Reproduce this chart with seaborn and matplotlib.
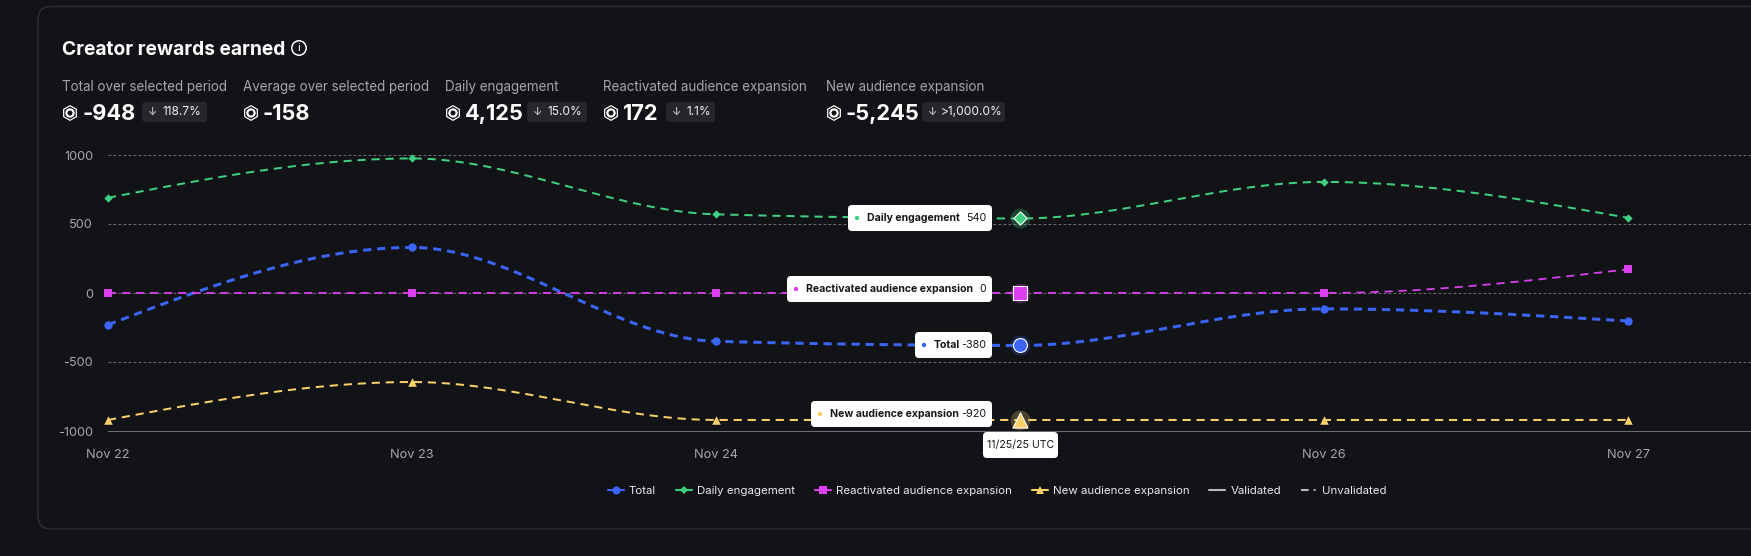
import numpy as np
import pandas as pd
import matplotlib
matplotlib.use("Agg")
import matplotlib.pyplot as plt
from matplotlib.lines import Line2D
from matplotlib.patches import Circle, FancyBboxPatch, RegularPolygon
import seaborn as sns

# Daily rewards per series
days = ["Nov 22", "Nov 23", "Nov 24", "Nov 25", "Nov 26", "Nov 27"]
total = [-230, 330, -350, -380, -115, -203]
daily_engagement = [690, 975, 570, 540, 805, 545]
reactivated = [0, 0, 0, 0, 0, 172]
new_audience = [-920, -645, -920, -920, -920, -920]
y_ticks = [-1000, -500, 0, 500, 1000]
x_tick_labels = ["Nov 22", "Nov 23", "Nov 24", "", "Nov 26", "Nov 27"]
hover_day = "Nov 25"
hover_stamp = "11/25/25 UTC"

# Summary header
metric_names = ["Total over selected period", "Average over selected period", "Daily engagement",
                "Reactivated audience expansion", "New audience expansion"]
metric_values = ["-948", "-158", "4,125", "172", "-5,245"]
metric_changes = ["118.7%", None, "15.0%", "1.1%", ">1,000.0%"]

BG = "#111317"
BORDER = "#2d2f33"
MUTED = "#a4a6aa"
GRID = "#6c6d71"
BLUE = "#3b65f6"
GREEN = "#3fd07f"
PINK = "#dc3ff0"
YELLOW = "#fad068"
PX = 0.72  # points per pixel at 100 dpi

sns.set_theme(style="darkgrid", rc={
    "figure.facecolor": BG, "axes.facecolor": "none", "savefig.facecolor": BG,
    "lines.scale_dashes": False, "axes.edgecolor": GRID, "text.color": "white",
    "xtick.color": MUTED, "ytick.color": MUTED,
})
plt.rcParams["font.family"] = ["Inter", "DejaVu Sans"]


def monotone_curve(values, samples=60):
    """Monotone cubic through daily values, flat at local extrema."""
    y = np.asarray(values, float)
    slopes = np.diff(y)
    tangents = np.zeros_like(y)
    for i in range(1, len(y) - 1):
        a, b = slopes[i - 1], slopes[i]
        tangents[i] = (np.sign(a) + np.sign(b)) * min(abs(a), abs(b), 0.25 * abs(a + b))
    tangents[0] = (3 * slopes[0] - tangents[1]) / 2
    tangents[-1] = (3 * slopes[-1] - tangents[-2]) / 2
    xs, ys = [], []
    for i in range(len(y) - 1):
        t = np.linspace(0, 1, samples)
        h00 = 2 * t**3 - 3 * t**2 + 1
        h10 = t**3 - 2 * t**2 + t
        h01 = -2 * t**3 + 3 * t**2
        h11 = t**3 - t**2
        xs.append(i + t)
        ys.append(h00 * y[i] + h10 * tangents[i] + h01 * y[i + 1] + h11 * tangents[i + 1])
    return np.concatenate(xs), np.concatenate(ys)


fig = plt.figure(figsize=(17.51, 5.56), dpi=100)

back = fig.add_axes([0, 0, 1, 1], zorder=0)
back.set_xlim(0, 1751)
back.set_ylim(556, 0)
back.axis("off")
front = fig.add_axes([0, 0, 1, 1], zorder=3)
front.set_xlim(0, 1751)
front.set_ylim(556, 0)
front.axis("off")
ax = fig.add_axes([108 / 1751, (556 - 431) / 556, (1751 - 108) / 1751, 276 / 556], zorder=2)

# Card outline, running past the right edge
back.add_patch(FancyBboxPatch((38, 6.5), 1800, 522.5, boxstyle="round,pad=0,rounding_size=13",
                              fc=BG, ec=BORDER, lw=1))


def coin(axis, cx, cy):
    axis.add_patch(RegularPolygon((cx, cy), 6, radius=8.0, orientation=0, fc="white", ec="none"))
    axis.add_patch(RegularPolygon((cx, cy), 6, radius=6.6, orientation=0, fc=BG, ec="none"))
    axis.add_patch(Circle((cx, cy), 4.7, fc="white", ec="none"))
    axis.add_patch(Circle((cx, cy), 2.5, fc=BG, ec="none"))


back.text(62, 50, "Creator rewards earned", fontsize=13.8, fontweight="bold", color="white", va="center")
back.add_patch(Circle((299, 48), 7.2, fc="none", ec="white", lw=1.1))
back.text(299, 48, "i", fontsize=8, color="white", ha="center", va="center")

label_x = [62, 243, 445, 603, 826]
coin_x = [70, 251, 453, 611, 834]
value_x = [82, 262, 465, 622, 845]
badge_spans = [(142, 207), None, (527, 587), (666, 715), (922, 1005)]
badge_text_x = [162, None, 547, 686, 941]
for name, value, change, lx, cx, vx, span, tx in zip(metric_names, metric_values, metric_changes,
                                                     label_x, coin_x, value_x, badge_spans, badge_text_x):
    back.text(lx, 87, name, fontsize=9.65, color=MUTED, va="center")
    coin(back, cx, 113)
    back.text(vx, 113.5, value, fontsize=15.7, fontweight="bold", color="white", va="center")
    if change:
        back.add_patch(FancyBboxPatch((span[0], 102), span[1] - span[0], 20,
                                      boxstyle="round,pad=0,rounding_size=3.5", fc="#25272c", ec="none"))
        back.text(span[0] + 10, 112, "↓", fontsize=8, color="#d8d9db", ha="center", va="center")
        back.text(tx, 112, change, fontsize=8.6, color="#eeeff0", va="center")

# Lines and markers
series = [
    ("Total", total, BLUE, "o", 3.0, 36),
    ("Daily engagement", daily_engagement, GREEN, "D", 2.0, 18),
    ("Reactivated audience expansion", reactivated, PINK, "s", 1.8, 34),
    ("New audience expansion", new_audience, YELLOW, "^", 2.0, 38),
]
hover_pos = days.index(hover_day)
for name, values, color, marker, width, size in series:
    cx, cy = monotone_curve(values)
    sns.lineplot(x=cx, y=cy, ax=ax, color=color, linewidth=width * PX, linestyle=(0, (5.9, 4.2)),
                 errorbar=None, sort=False, clip_on=False, zorder=3, estimator=None)
    frame = pd.DataFrame({"pos": range(len(days)), "value": values})
    frame = frame[frame["pos"] != hover_pos]
    sns.scatterplot(data=frame, x="pos", y="value", ax=ax, color=color, marker=marker, s=size,
                    linewidth=0, clip_on=False, zorder=4)

# Highlighted day
hover_sizes = {"o": 100, "D": 46, "s": 100, "^": 120}
for name, values, color, marker, width, size in series:
    ax.scatter([hover_pos], [values[hover_pos]], s=205, color=color, alpha=0.25, linewidth=0,
               clip_on=False, zorder=5)
    ax.scatter([hover_pos], [values[hover_pos]], s=hover_sizes[marker], color=color, marker=marker,
               edgecolor="white", linewidth=0.8, clip_on=False, zorder=6)

ax.set_xlim(0, (1751 - 108) / 304)
ax.set_ylim(-1000, 1000)
ax.set_xticks(range(len(days)))
ax.set_xticklabels(x_tick_labels, fontsize=9.2)
ax.set_yticks(y_ticks)
ax.set_yticklabels([str(v) for v in y_ticks], fontsize=9.2)
ax.set_xlabel("")
ax.set_ylabel("")
ax.tick_params(axis="y", length=0, pad=10.8)
ax.tick_params(axis="x", length=0, pad=13)
ax.grid(False, axis="x")
ax.grid(True, axis="y", color=GRID, linewidth=0.72, linestyle=(0, (2.0, 1.6)))
ax.set_axisbelow(True)
for side in ("top", "left", "right"):
    ax.spines[side].set_visible(False)
ax.spines["bottom"].set_visible(True)
ax.spines["bottom"].set_color(GRID)
ax.spines["bottom"].set_linewidth(0.8)

# Tooltips beside the highlighted points
tooltips = [
    ("Daily engagement", daily_engagement, GREEN, 848, 205),
    ("Reactivated audience expansion", reactivated, PINK, 787, 276),
    ("Total", total, BLUE, 915, 332),
    ("New audience expansion", new_audience, YELLOW, 811, 401),
]
for name, values, color, left, top in tooltips:
    front.add_patch(FancyBboxPatch((left, top), 992 - left, 26, boxstyle="round,pad=0,rounding_size=4",
                                   fc="white", ec="none"))
    front.add_patch(Circle((left + 9, top + 13), 2.2, fc=color, ec="none"))
    front.text(left + 19, top + 12.7, name, fontsize=7.55, fontweight="bold", color="#14161a", va="center")
    front.text(986, top + 12.7, str(values[hover_pos]), fontsize=7.8, color="#14161a", ha="right", va="center")
front.add_patch(FancyBboxPatch((983, 432), 75, 26, boxstyle="round,pad=0,rounding_size=4", fc="white", ec="none"))
front.text(1020.5, 444.7, hover_stamp, fontsize=7.6, color="#14161a", ha="center", va="center")

# Legend
handles = [Line2D([], [], color=c, marker=m, markersize=(5.8 if m != "D" else 4.2), markeredgewidth=0, lw=1.5, label=n)
           for n, _, c, m, _, _ in series]
handles.append(Line2D([], [], color="#b9babc", lw=1.5, label="Validated"))
handles.append(Line2D([], [], color="#b9babc", lw=1.5, linestyle=(0, (5.5, 3.6, 1.4, 40)), label="Unvalidated"))
font_px = 11.5
legend = front.legend(handles=handles, loc="center", bbox_to_anchor=(997, 491), bbox_transform=front.transData,
                      ncol=6, frameon=False, fontsize=font_px * PX, labelcolor="#e9eaeb",
                      handlelength=16 / font_px, handletextpad=5 / font_px, columnspacing=20 / font_px,
                      borderpad=0, borderaxespad=0)

fig.savefig("out.png", dpi=100, facecolor=BG)
